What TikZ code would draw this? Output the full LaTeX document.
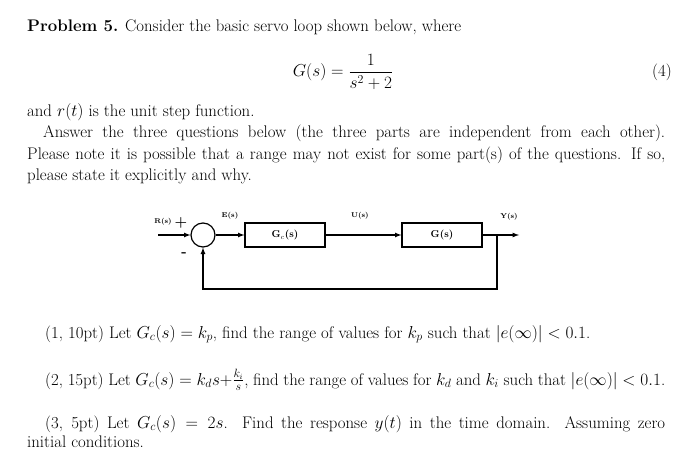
\documentclass[tikz,border=0pt]{standalone}
\usepackage{amsmath}
\usepackage{tikz}
\usetikzlibrary{calc,positioning,arrows}
\tikzset{
  txt/.style={anchor=base west,inner sep=0pt,font=\fontsize{16.8}{19}\selectfont},
  blk/.style={draw,line width=1.2pt,minimum width=80pt,minimum height=24pt,font=\bfseries\fontsize{10}{12}\selectfont},
  sig/.style={inner sep=0pt,font=\bfseries\fontsize{7}{8}\selectfont},
  wire/.style={line width=1.2pt}
}
\begin{document}
\begin{tikzpicture}[x=1pt,y=-1pt]
  \useasboundingbox (0,0) rectangle (700,457);
  % problem text
  \node(l1) [txt] at (27,32) {\textbf{Problem 5.} Consider the basic servo loop shown below, where};
  \node(eq) [txt,anchor=center] at (343,72) {$G(s)=\dfrac{1}{s^2+2}$};
  \node(eqn) [txt,anchor=east] at (672,72) {(4)};
  \node(l2) [txt] at (27,117) {and $r(t)$ is the unit step function.};
  \node(l3) [txt] at (43,138) {\makebox[622pt][s]{Answer the three questions below (the three parts are independent from each other).}};
  \node(l4) [txt] at (27,159) {\makebox[638pt][s]{Please note it is possible that a range may not exist for some part(s) of the questions. If so,}};
  \node(l5) [txt] at (27,180) {please state it explicitly and why.};
  % block diagram
  \node(sum) [draw,wire,circle,minimum size=24pt,inner sep=0pt] at (203,235) {};
  \node(Gc) [blk] at (285,235) {G$_c$(s)};
  \node(G) [blk] at (442,235) {G(s)};
  \coordinate (in) at (158,235);
  \coordinate (br) at (497,235);
  \coordinate (out) at (519,235);
  \coordinate (fb) at (497,289);
  \draw[wire,-latex] (in) -- (sum);
  \draw[wire,-latex] (sum) -- (Gc);
  \draw[wire,-latex] (Gc) -- (G);
  \draw[wire,-latex] (G) -- (out);
  \draw[wire,-latex] (br) -- (fb) -| (sum);
  \node(R) [sig] at (163,222) {R(s)};
  \node(plus) [inner sep=0pt,font=\bfseries\Large] at (181,223) {+};
  \node(minus) [inner sep=0pt,font=\bfseries\Large] at (184,255) {-};
  \node(E) [sig] at (230,216) {E(s)};
  \node(U) [sig] at (360,216) {U(s)};
  \node(Y) [sig] at (509,217) {Y(s)};
  % questions
  \node(q1) [txt] at (45,338) {(1, 10pt) Let $G_c(s)=k_p$, find the range of values for $k_p$ such that $|e(\infty)|<0.1$.};
  \node(q2) [txt] at (45,385) {\makebox[620pt][s]{(2, 15pt) Let $G_c(s)=k_d s{+}\frac{k_i}{s}$, find the range of values for $k_d$ and $k_i$ such that $|e(\infty)|<0.1$.}};
  \node(q3) [txt] at (45,428) {\makebox[620pt][s]{(3, 5pt) Let $G_c(s)=2s$. Find the response $y(t)$ in the time domain. Assuming zero}};
  \node(q4) [txt] at (27,447) {initial conditions.};
\end{tikzpicture}
\end{document}
